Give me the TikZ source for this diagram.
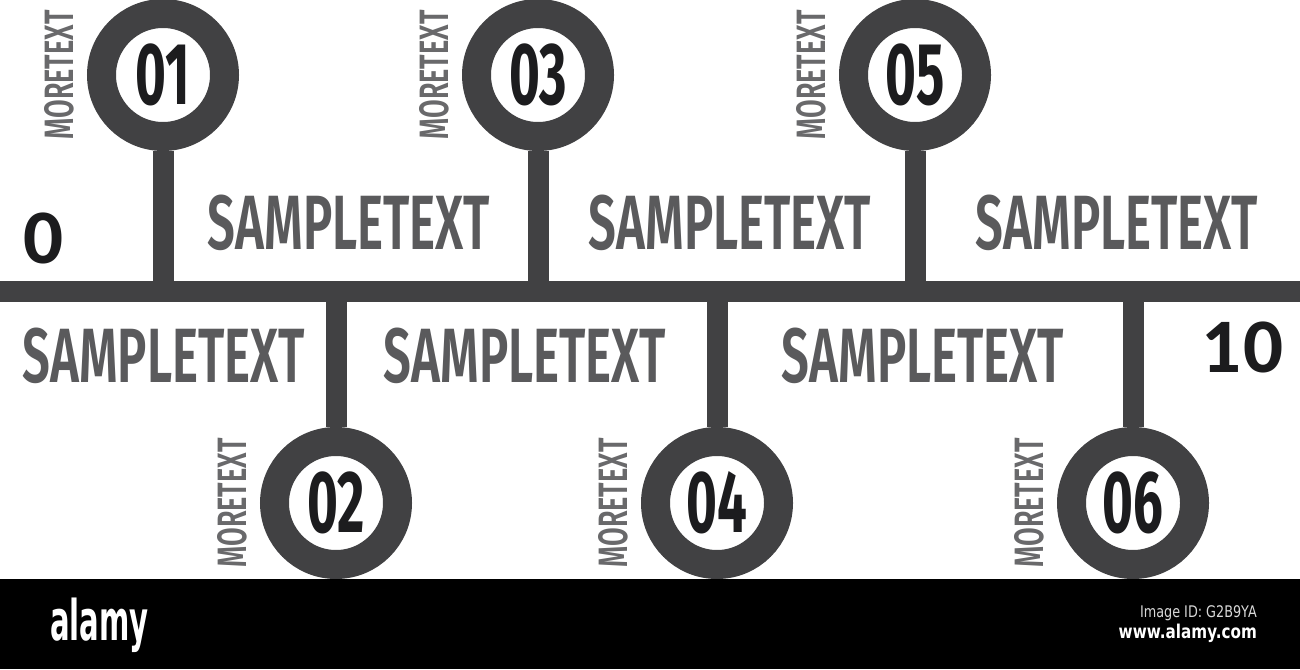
\documentclass[tikz,border=0pt]{standalone}
\usepackage{fontspec}
\usepackage{xcolor}
\newfontfamily\tallfont[FakeStretch=0.64]{Fira Sans SemiBold}
\newfontfamily\numfont[FakeStretch=0.6]{Fira Sans}
\newfontfamily\morefont[FakeStretch=0.66]{Fira Sans SemiBold}
\newfontfamily\endfont{Lato Heavy}
\newfontfamily\logofont[FakeStretch=0.52]{DejaVu Sans}
\newfontfamily\idfont[FakeStretch=0.8]{DejaVu Sans}
\definecolor{ringgray}{RGB}{65,65,67}
\definecolor{samplegray}{RGB}{90,90,92}
\definecolor{moregray}{RGB}{105,105,107}
\definecolor{numblack}{RGB}{28,28,30}
\tikzset{
  pin/.style={draw=ringgray,fill=white,circle,line width=29pt,minimum size=123pt,inner sep=0pt,text=numblack,font={\numfont\bfseries\fontsize{88}{88}\selectfont}},
  stem/.style={draw=ringgray,line width=21pt},
  sample/.style={inner sep=0pt,text=samplegray,font={\tallfont\fontsize{77}{77}\selectfont}},
  more/.style={rotate=90,inner sep=0pt,text=moregray,font={\morefont\fontsize{41}{41}\selectfont}},
  endmark/.style={inner sep=0pt,text=numblack,font={\endfont\fontsize{69}{69}\selectfont}}
}

\begin{document}
\begin{tikzpicture}[x=1pt,y=-1pt]
\useasboundingbox (0,0) rectangle (1300,669);
\coordinate (left) at (0,291);
\coordinate (right) at (1300,291);
\coordinate (b1) at (163,291);
\coordinate (b2) at (336,291);
\coordinate (b3) at (538,291);
\coordinate (b4) at (717,291);
\coordinate (b5) at (915,291);
\coordinate (b6) at (1133,291);

\draw[stem] (left) -- (right);
\node[pin] (c1) at (163,75) {01};
\node[pin] (c2) at (336,503) {02};
\node[pin] (c3) at (538,75) {03};
\node[pin] (c4) at (717,503) {04};
\node[pin] (c5) at (915,75) {05};
\node[pin] (c6) at (1133,503) {06};

\draw[stem] (c1) -- (b1);
\draw[stem] (c2) -- (b2);
\draw[stem] (c3) -- (b3);
\draw[stem] (c4) -- (b4);
\draw[stem] (c5) -- (b5);
\draw[stem] (c6) -- (b6);

\node[more] (m1) at ([xshift=-104pt]c1) {MORETEXT};
\node[more] (m2) at ([xshift=-104pt]c2) {MORETEXT};
\node[more] (m3) at ([xshift=-104pt]c3) {MORETEXT};
\node[more] (m4) at ([xshift=-104pt]c4) {MORETEXT};
\node[more] (m5) at ([xshift=-104pt]c5) {MORETEXT};
\node[more] (m6) at ([xshift=-104pt]c6) {MORETEXT};

\node[sample] (s1) at (349,223) {SAMPLETEXT};
\node[sample] (s3) at (730,223) {SAMPLETEXT};
\node[sample] (s5) at (1117,223) {SAMPLETEXT};
\node[sample] (s2) at (164,356) {SAMPLETEXT};
\node[sample] (s4) at (525,356) {SAMPLETEXT};
\node[sample] (s6) at (923,356) {SAMPLETEXT};

\node[endmark] (zero) at (44,238) {0};
\node[endmark] (ten) at (1243,347) {10};

\fill[black] (0,579) rectangle (1300,669);
\node[anchor=base west,inner sep=0pt,text=white,font={\logofont\bfseries\fontsize{56}{56}\selectfont}] (logo) at (50,640) {alamy};
\node[anchor=base east,inner sep=0pt,text=white!85!black,font={\idfont\fontsize{16}{16}\selectfont}] (imgid) at (1257,617) {Image ID: G2B9YA};
\node[anchor=base east,inner sep=0pt,text=white,font={\idfont\bfseries\fontsize{19}{19}\selectfont}] (site) at (1257,638) {www.alamy.com};
\end{tikzpicture}
\end{document}
